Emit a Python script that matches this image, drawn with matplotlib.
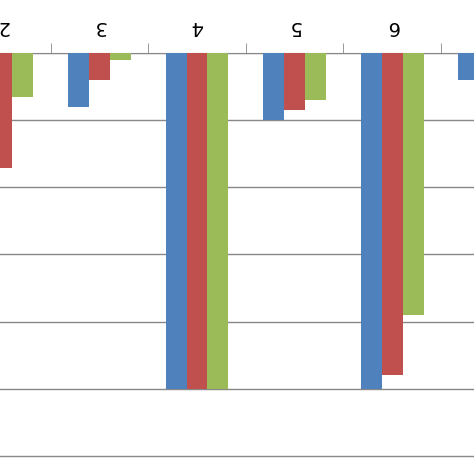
import matplotlib
matplotlib.use("Agg")
import matplotlib.pyplot as plt
import numpy as np

categories = [2, 3, 4, 5, 6, 7]
blue = [3.6, 0.8, 5.0, 1.0, 5.0, 0.4]
red = [1.72, 0.4, 5.0, 0.85, 4.8, 0.3]
green = [0.66, 0.1, 5.0, 0.7, 3.9, 0.2]

fig = plt.figure(figsize=(4.74, 4.74), dpi=100)
ax = fig.add_axes([0, 0, 1, 1 - 53/474])
x = np.array(categories, dtype=float)
w = 0.215
ax.bar(x - w, blue, w, color="#4F81BD", zorder=3)
ax.bar(x, red, w, color="#C0504D", zorder=3)
ax.bar(x + w, green, w, color="#9BBB59", zorder=3)
ax.set_yticks([0, 1, 2, 3, 4, 5, 6])
ax.yaxis.grid(True, color="#888888", linewidth=1, zorder=0)
ax.tick_params(axis="y", left=False, labelleft=False)
ax.xaxis.tick_top()
ax.set_xticks(x)
ax.set_xticklabels([str(c) for c in categories], rotation=180, fontsize=14)
ax.tick_params(axis="x", which="major", length=0, pad=12)
ax.set_xticks(x + 0.5, minor=True)
ax.tick_params(axis="x", which="minor", length=7, color="#888888", top=True, bottom=False)
ax.set_xlim(1.98, 6.84)
ax.set_ylim(6.27, 0)
for s in ["left", "right", "bottom"]:
    ax.spines[s].set_visible(False)
ax.spines["top"].set_color("#888888")
fig.savefig("out.png", dpi=100)
